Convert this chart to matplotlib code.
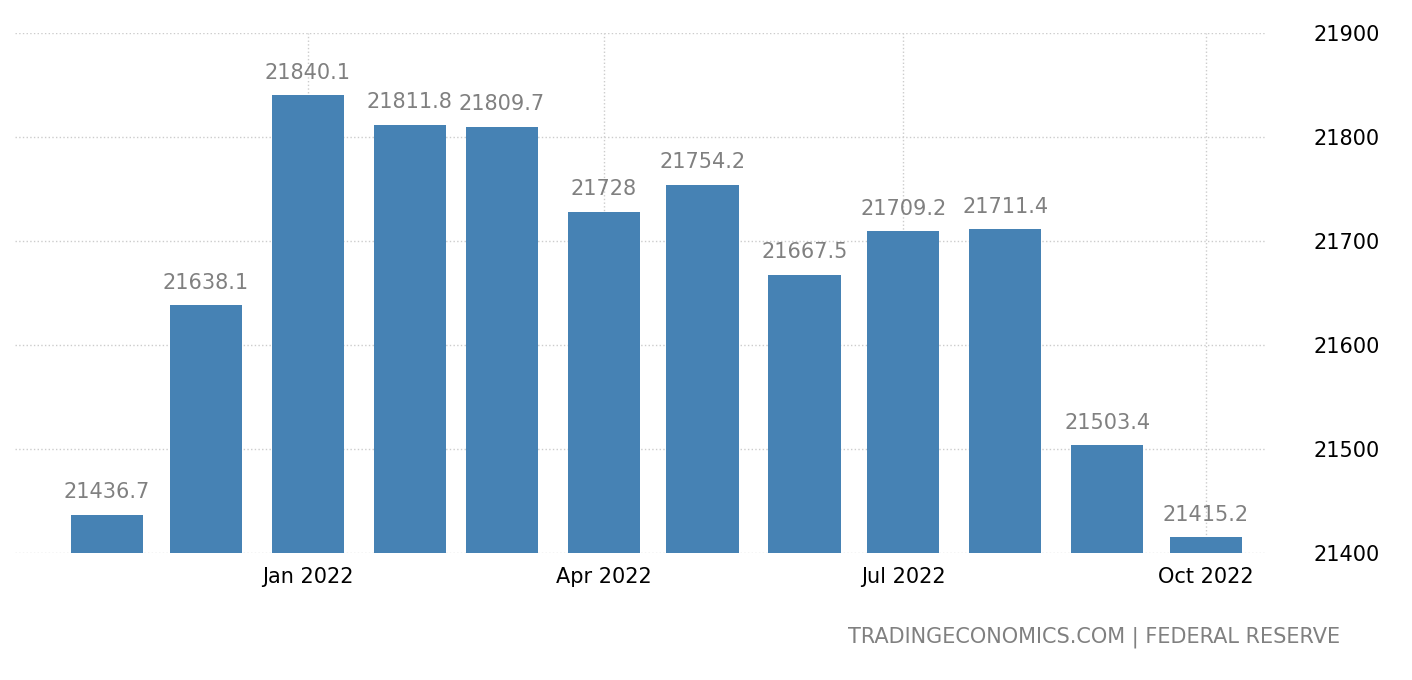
import matplotlib
matplotlib.use("Agg")
import matplotlib.pyplot as plt
import matplotlib.dates as mdates
import datetime as dt

months = ["2021-11","2021-12","2022-01","2022-02","2022-03","2022-04","2022-05","2022-06","2022-07","2022-08","2022-09","2022-10"]
values = [21436.7,21638.1,21840.1,21811.8,21809.7,21728,21754.2,21667.5,21709.2,21711.4,21503.4,21415.2]
labels = ["21436.7","21638.1","21840.1","21811.8","21809.7","21728","21754.2","21667.5","21709.2","21711.4","21503.4","21415.2"]
yticks = [21400,21500,21600,21700,21800,21900]

dates = [dt.datetime.strptime(m, "%Y-%m") for m in months]
fig = plt.figure(figsize=(14.12, 6.8), dpi=100)
ax = fig.add_axes([15/1412, 1-553/680, 1250/1412, 520/680])
ax.bar(dates, [v-21400 for v in values], bottom=21400, width=22, color="#4682b4", zorder=2)
for d, v, l in zip(dates, values, labels):
    ax.text(d, v+12, l, ha="center", va="bottom", fontsize=15, color="#808080")
ax.set_xlim(dt.datetime(2021,10,4), dt.datetime(2022,10,19))
ax.set_ylim(21400, 21900)
ax.yaxis.tick_right()
ax.set_yticks(yticks)
ax.set_yticklabels([str(t) for t in yticks], fontsize=15)
ax.tick_params(axis="y", length=0, pad=35)
ax.set_xticks([dt.datetime(2022,1,1), dt.datetime(2022,4,1), dt.datetime(2022,7,1), dt.datetime(2022,10,1)])
ax.xaxis.set_major_formatter(mdates.DateFormatter("%b %Y"))
ax.tick_params(axis="x", length=0, labelsize=15, pad=10)
ax.grid(True, linestyle=":", color="#cccccc", linewidth=1, zorder=0)
for s in ax.spines.values():
    s.set_visible(False)
fig.text(1340/1412, 1-637/680, "TRADINGECONOMICS.COM | FEDERAL RESERVE", ha="right", va="center", fontsize=15, color="#808080")
fig.savefig("out.png", dpi=100)
